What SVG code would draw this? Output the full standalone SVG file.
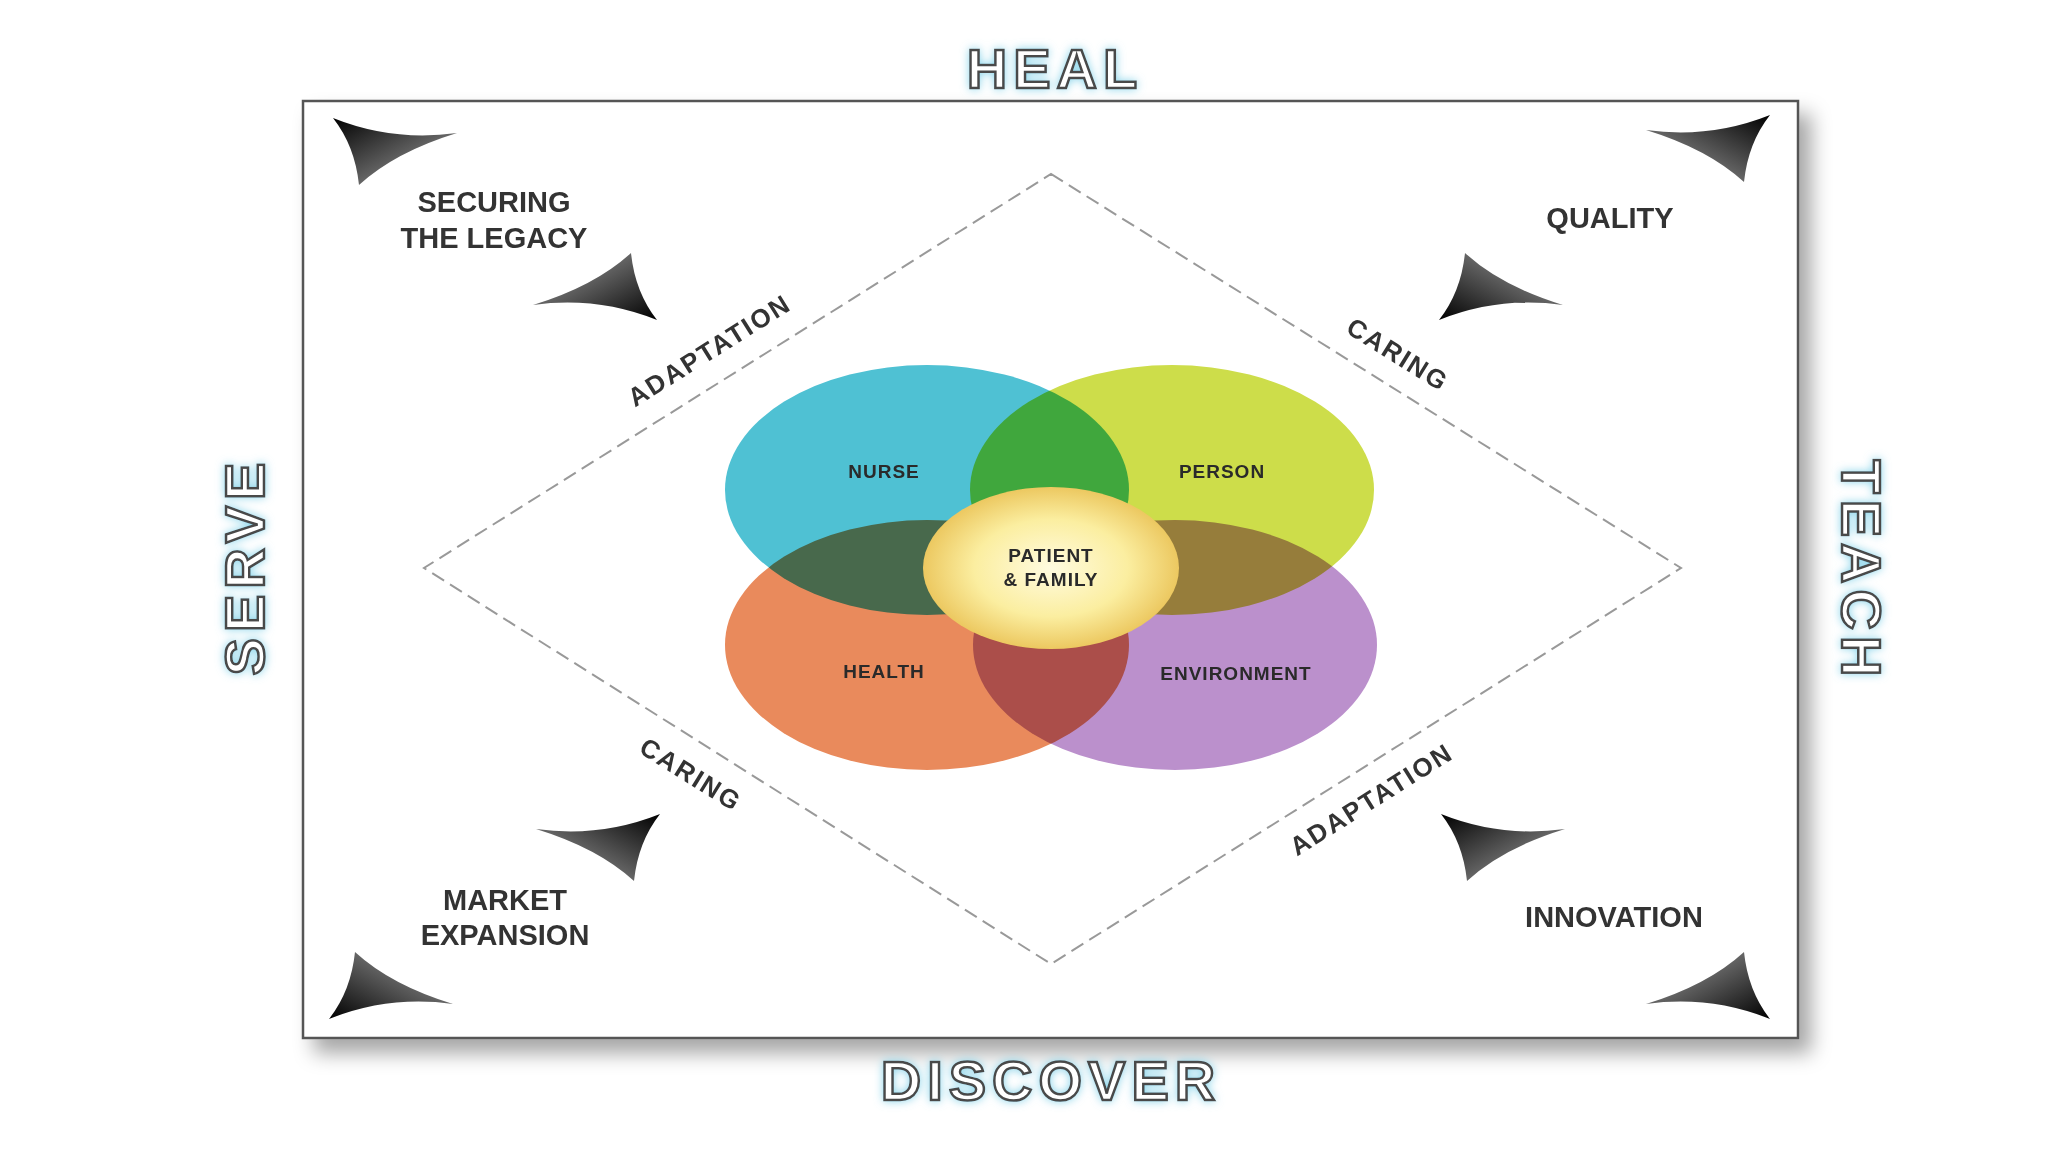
<svg xmlns="http://www.w3.org/2000/svg" width="2048" height="1152" viewBox="0 0 2048 1152">
<defs>
<style>
.big{font-family:"Liberation Sans",Arial,sans-serif;font-weight:bold;font-size:56px;fill:#fff;stroke:#4a4a4a;stroke-width:2.5;letter-spacing:6px;text-anchor:middle;filter:url(#glow)}
.lbl{font-family:"Liberation Sans",Arial,sans-serif;font-weight:bold;font-size:29px;fill:#333;text-anchor:middle}
.dl{font-family:"Liberation Sans",Arial,sans-serif;font-weight:bold;font-size:26px;fill:#333;text-anchor:middle;letter-spacing:2px}
.cl{font-family:"Liberation Sans",Arial,sans-serif;font-weight:bold;font-size:19px;fill:#2a2a2a;text-anchor:middle;letter-spacing:1px}
.c{mix-blend-mode:multiply}
</style>
<filter id="glow" x="-20%" y="-40%" width="140%" height="180%"><feDropShadow dx="0" dy="0" stdDeviation="5" flood-color="#7fd0e8" flood-opacity="0.9"/></filter>
<filter id="sh" x="-5%" y="-5%" width="115%" height="115%"><feDropShadow dx="12" dy="14" stdDeviation="10" flood-color="#000" flood-opacity="0.35"/></filter>
<linearGradient id="ag" x1="0" y1="0" x2="1" y2="1"><stop offset="0" stop-color="#000"/><stop offset="1" stop-color="#aaa"/></linearGradient>
<radialGradient id="cg"><stop offset="0" stop-color="#fffbe0"/><stop offset="0.6" stop-color="#fbeea0"/><stop offset="1" stop-color="#ecc860"/></radialGradient>
<path id="arr" d="M0,0 Q60,24 124,15 Q62,34 26,67 Q22,28 0,0 Z" fill="url(#ag)"/>
</defs>
<rect width="2048" height="1152" fill="#fff"/>
<g id="frame"><rect x="303" y="101" width="1495" height="937" fill="#fff" stroke="#555" stroke-width="2.5" filter="url(#sh)"/></g>
<g id="titles">
<text class="big" x="1055" y="88">HEAL</text>
<text class="big" x="1051" y="1100">DISCOVER</text>
<text class="big" transform="translate(264,566) rotate(-90)">SERVE</text>
<text class="big" transform="translate(1842,571) rotate(90)">TEACH</text>
</g>
<g id="connectors">
<polygon points="1051,174 1681,568 1051,964 424,568" fill="none" stroke="#999" stroke-width="2" stroke-dasharray="14,7"/>
<use href="#arr" transform="translate(333,118)"/>
<use href="#arr" transform="translate(657,320) rotate(180)"/>
<use href="#arr" transform="translate(1770,115) scale(-1,1)"/>
<use href="#arr" transform="translate(1439,320) scale(1,-1)"/>
<use href="#arr" transform="translate(660,814) scale(-1,1)"/>
<use href="#arr" transform="translate(329,1019) scale(1,-1)"/>
<use href="#arr" transform="translate(1441,814)"/>
<use href="#arr" transform="translate(1770,1019) rotate(180)"/>
</g>
<g id="edge-labels">
<text class="dl" transform="translate(714,358) rotate(-32)">ADAPTATION</text>
<text class="dl" transform="translate(1393,362) rotate(32)">CARING</text>
<text class="dl" transform="translate(686,782) rotate(32)">CARING</text>
<text class="dl" transform="translate(1376,807) rotate(-32)">ADAPTATION</text>
</g>
<g id="corners">
<text class="lbl" x="494" y="212">SECURING</text><text class="lbl" x="494" y="248">THE LEGACY</text>
<text class="lbl" x="1610" y="228">QUALITY</text>
<text class="lbl" x="505" y="910">MARKET</text><text class="lbl" x="505" y="945">EXPANSION</text>
<text class="lbl" x="1614" y="927">INNOVATION</text>
</g>
<g id="venn" style="isolation:isolate">
<ellipse class="c" cx="927" cy="490" rx="202" ry="125" fill="#4fc1d3"/>
<ellipse class="c" cx="1172" cy="490" rx="202" ry="125" fill="#cddd4a"/>
<ellipse class="c" cx="927" cy="645" rx="202" ry="125" fill="#e98a5c"/>
<ellipse class="c" cx="1175" cy="645" rx="202" ry="125" fill="#bb90cc"/>
</g>
<g id="nurse"><text class="cl" x="884" y="478">NURSE</text></g>
<g id="person"><text class="cl" x="1222" y="478">PERSON</text></g>
<g id="health"><text class="cl" x="884" y="678">HEALTH</text></g>
<g id="environment"><text class="cl" x="1236" y="680">ENVIRONMENT</text></g>
<g id="patient"><ellipse cx="1051" cy="568" rx="128" ry="81" fill="url(#cg)"/>
<text class="cl" x="1051" y="562">PATIENT</text><text class="cl" x="1051" y="586">&amp; FAMILY</text></g>
</svg>
